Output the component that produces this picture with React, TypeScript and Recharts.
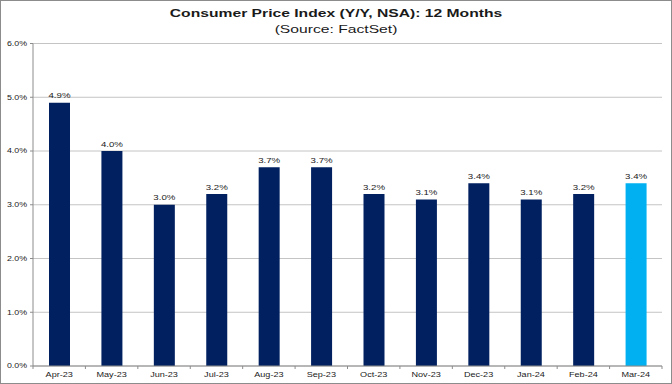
import { Bar, BarChart, CartesianGrid, Cell, LabelList, XAxis, YAxis } from 'recharts'

const months = ['Apr-23', 'May-23', 'Jun-23', 'Jul-23', 'Aug-23', 'Sep-23', 'Oct-23', 'Nov-23', 'Dec-23', 'Jan-24', 'Feb-24', 'Mar-24']
const cpiYoY = [4.9, 4.0, 3.0, 3.2, 3.7, 3.7, 3.2, 3.1, 3.4, 3.1, 3.2, 3.4]
const yTicks = [0, 1, 2, 3, 4, 5, 6]

const NAVY = '#002060'
const LATEST = '#00B0F0'
const FONT = '"Liberation Sans", Arial, sans-serif'
// the source image is stretched sideways, so every text gets widened a bit
const STRETCH = 1.4

const series = months.map((month, index) => ({ month, value: cpiYoY[index] }))

function WideText({ x, y, size, anchor, bold, children }: any) {
  return (
    <g transform={`translate(${x},${y}) scale(${STRETCH},1)`}>
      <text x={0} y={0} textAnchor={anchor} fontSize={size} fontWeight={bold ? 700 : 400} fontFamily={FONT} fill="#1a1a1a">
        {children}
      </text>
    </g>
  )
}

function MonthTick({ x, y, payload, index }: any) {
  const half = payload?.offset ?? 26.2
  return (
    <g>
      <line x1={x - half} x2={x - half} y1={y} y2={y + 3} stroke="#8c8c8c" />
      {index === months.length - 1 && <line x1={x + half} x2={x + half} y1={y} y2={y + 3} stroke="#8c8c8c" />}
      <WideText x={x} y={y + 10.5} size={6.5} anchor="middle">
        {payload.value}
      </WideText>
    </g>
  )
}

function PercentTick({ x, y, payload }: any) {
  return (
    <g>
      <line x1={x - 3} x2={x} y1={y} y2={y} stroke="#8c8c8c" />
      <WideText x={x - 6} y={y + 2.3} size={6.3} anchor="end">
        {`${Number(payload.value).toFixed(1)}%`}
      </WideText>
    </g>
  )
}

function ValueLabel({ x, y, width, value }: any) {
  return (
    <WideText x={x + width / 2} y={y - 4.5} size={6.9} anchor="middle">
      {`${Number(value).toFixed(1)}%`}
    </WideText>
  )
}

export default function App() {
  return (
    <div
      style={{
        position: 'absolute',
        left: 0,
        top: 0,
        width: 672,
        height: 384,
        background: '#fff',
        border: '1px solid #8c8c8c',
        boxSizing: 'border-box',
      }}
    >
      <svg width={672} height={40} style={{ position: 'absolute', left: -1, top: -1 }}>
        <WideText x={336} y={17.3} size={11.2} anchor="middle" bold>
          Consumer Price Index (Y/Y, NSA):  12 Months
        </WideText>
        <WideText x={336} y={32.5} size={11.2} anchor="middle">
          (Source: FactSet)
        </WideText>
      </svg>
      <div style={{ position: 'absolute', left: -1, top: -1 }}>
        <BarChart width={672} height={384} data={series} margin={{ top: 43.5, right: 10, bottom: 0, left: 0 }} barSize={21}>
          <CartesianGrid vertical={false} stroke="#c4c4c4" />
          <XAxis
            dataKey="month"
            interval={0}
            height={18}
            tickSize={0}
            tickMargin={0}
            tickLine={false}
            axisLine={{ stroke: '#8c8c8c' }}
            tick={<MonthTick />}
          />
          <YAxis
            domain={[0, 6]}
            ticks={yTicks}
            width={33}
            tickSize={0}
            tickMargin={0}
            tickLine={false}
            axisLine={{ stroke: '#8c8c8c' }}
            tick={<PercentTick />}
          />
          <Bar dataKey="value" isAnimationActive={false}>
            {series.map((entry, index) => (
              <Cell key={entry.month} fill={index === series.length - 1 ? LATEST : NAVY} />
            ))}
            <LabelList dataKey="value" content={<ValueLabel />} />
          </Bar>
        </BarChart>
      </div>
    </div>
  )
}
